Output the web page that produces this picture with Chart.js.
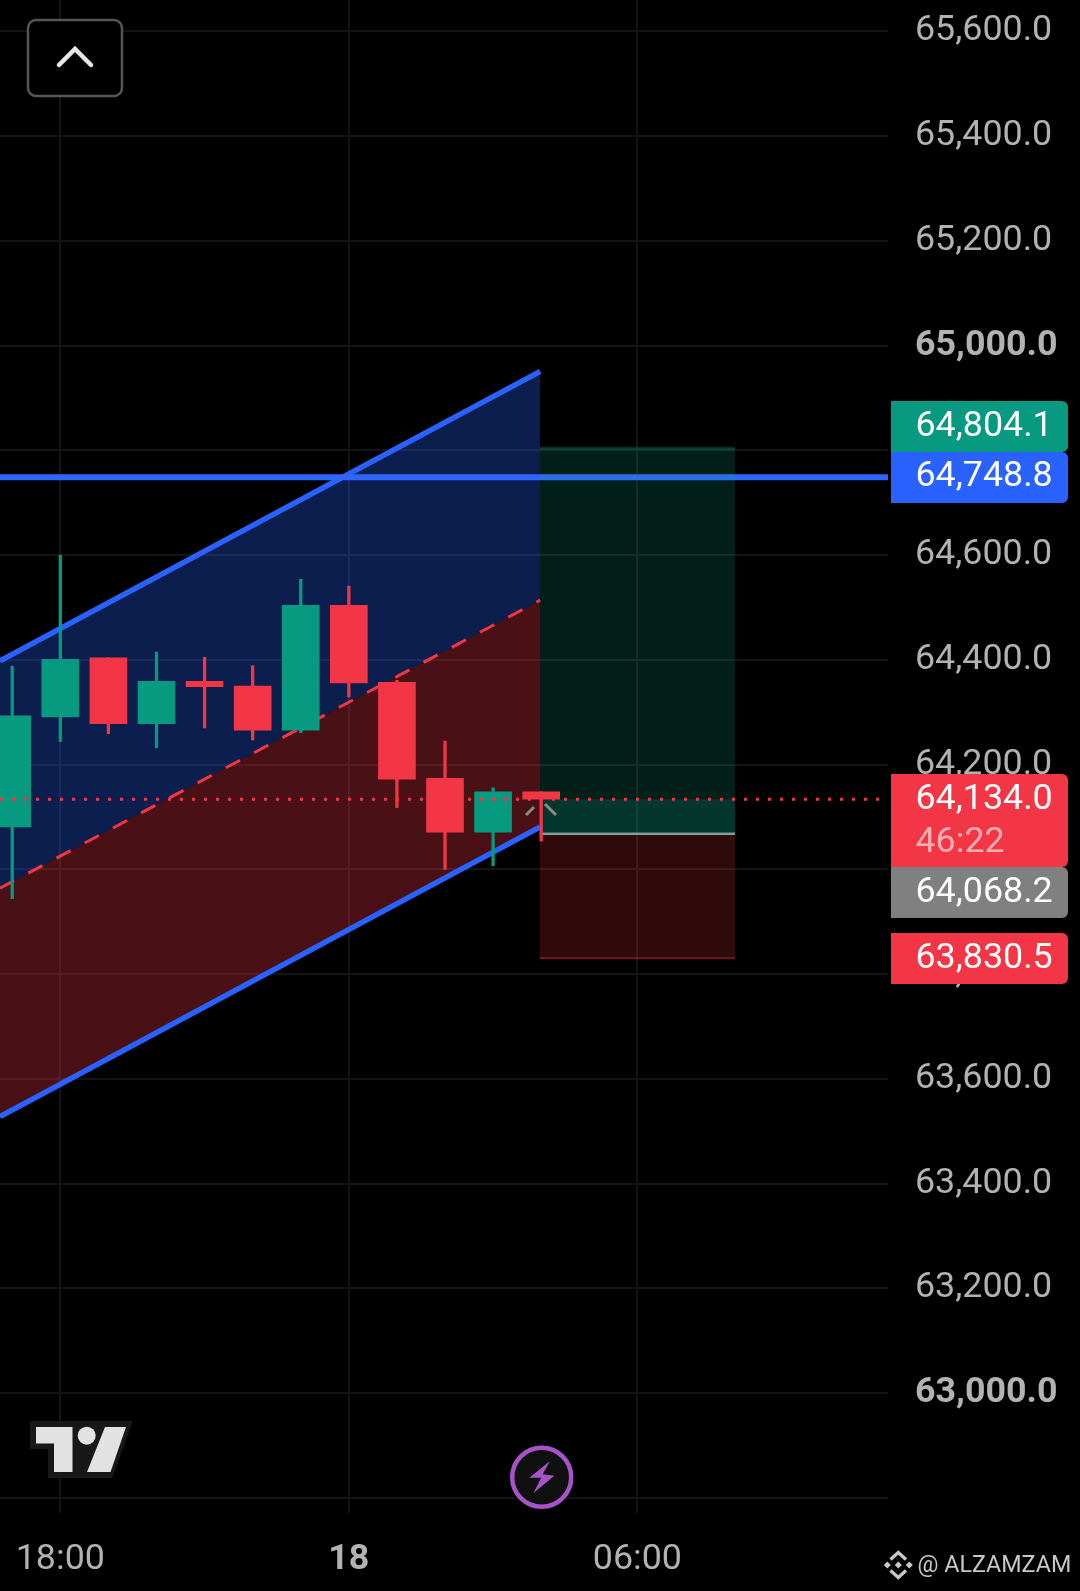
<!DOCTYPE html>
<html><head><meta charset="utf-8">
<style>html,body{margin:0;padding:0;background:#000}canvas{display:block}</style>
<script src="https://cdn.jsdelivr.net/npm/chart.js@4"></script>
</head><body>
<canvas id="c" width="1080" height="1591" style="width:1080px;height:1591px"></canvas>
<script>
// x = hours since 18:00 on the 17th
const hours  = [-1,0,1,2,3,4,5,6,7,8,9,10];
const open   = [64081,64291,64404,64278,64359,64350,64266,64504,64357,64174,64071,64148];
const high   = [64388,64600,64404,64415,64405,64389,64554,64541,64361,64245,64156,64148];
const low    = [63944,64244,64259,64232,64270,64247,64261,64329,64118,64000,64007,64054];
const close  = [64293,64401,64278,64359,64349,64266,64504,64356,64172,64071,64148,64134];
const priceTicks = [65600,65400,65200,65000,64800,64600,64400,64200,64000,63800,63600,63400,63200,63000,62800];
const priceTickLabels = ['65,600.0','65,400.0','65,200.0','65,000.0','64,800.0','64,600.0','64,400.0','64,200.0','64,000.0','63,800.0','63,600.0','63,400.0','63,200.0','63,000.0',''];
const boldPrices = [65000,63000];
const timeTicks = [0,6,12];
const timeTickLabels = ['18:00','18','06:00'];
const boldTimes = [6];
const channelX = [-1.254,9.98];
const channelUpper = [64398,64951];
const channelMid = [63964,64514];
const channelLower = [63528,64081];
const positionX = [9.97,14.03];
const targetPrice = 64804.1;
const entryPrice = 64068.2;
const stopPrice = 63830.5;
const levelPrice = 64748.8;
const lastPrice = 64134.0;
const countdown = '46:22';

const GREEN='#089981', RED='#f23645', BLUE='#2962ff', GRAY='#808080';
const X_MIN=-1.254, X_MAX=17.212, Y_MIN=62771, Y_MAX=65660;
const FONT='Roboto', SIZE=35.8, GRID='#141414';
const flat=(xs,v)=>xs.map(x=>({x,y:v}));
const line=(xs,ys)=>xs.map((x,i)=>({x,y:ys[i]}));
const base={type:'line',pointRadius:0,pointHoverRadius:0,tension:0,borderCapStyle:'butt'};

const tags=[
 {text:priceFmt(targetPrice),color:GREEN,top:401,bottom:452,ty:427},
 {text:priceFmt(levelPrice),color:BLUE,top:452,bottom:503,ty:477},
 {text:priceFmt(lastPrice),sub:countdown,color:RED,top:774,bottom:867,ty:800,sy:843},
 {text:priceFmt(entryPrice),color:GRAY,top:867,bottom:918,ty:893},
 {text:priceFmt(stopPrice),color:RED,top:933,bottom:984,ty:959}
];
function priceFmt(v){return v.toLocaleString('en-US',{minimumFractionDigits:1,maximumFractionDigits:1});}

const overlay={id:'overlay',afterDraw(chart){
  const g=chart.ctx; g.save();
  const poly=(pts)=>{g.beginPath();pts.forEach(([x,y],i)=>i?g.lineTo(x,y):g.moveTo(x,y));g.closePath();};
  // chevron near the last candle
  g.strokeStyle='#8a8a8a';g.lineWidth=3;g.lineCap='butt';
  g.beginPath();g.moveTo(526,815);g.lineTo(534,807);g.moveTo(545,804);g.lineTo(556,815);g.stroke();
  // tags
  g.textBaseline='middle';g.textAlign='left';
  tags.forEach(t=>{
    g.fillStyle=t.color;g.beginPath();
    g.roundRect(891,t.top,177,t.bottom-t.top,[0,6,6,0]);g.fill();
    g.font='400 '+SIZE+'px '+FONT;g.fillStyle='#fff';g.fillText(t.text,915.5,t.ty);
    if(t.sub){g.fillStyle='rgba(255,255,255,.6)';g.fillText(t.sub,915.5,t.sy);}
  });
  // collapse button
  g.fillStyle='#000';g.strokeStyle='#555';g.lineWidth=2.5;
  g.beginPath();g.roundRect(28,20,94,76,8);g.fill();g.stroke();
  g.strokeStyle='#e8e8e8';g.lineWidth=4.5;g.lineCap='round';g.lineJoin='miter';
  g.beginPath();g.moveTo(59,65);g.lineTo(75,49);g.lineTo(91,65);g.stroke();
  // logo
  g.fillStyle='#181818';
  poly([[30,1421],[133,1421],[112,1478],[48,1478],[48,1449],[30,1449]]);g.fill();
  g.fillStyle='#e2e2e2';
  poly([[36,1427],[72.5,1427],[72.5,1472],[54,1472],[54,1443.5],[36,1443.5]]);g.fill();
  poly([[105,1427],[126,1427],[110.5,1472],[87,1472]]);g.fill();
  g.beginPath();g.arc(86.7,1435.7,9,0,Math.PI*2);g.fill();
  // lightning badge
  g.beginPath();g.arc(541.7,1477.3,29.5,0,Math.PI*2);g.fillStyle='#101010';g.fill();
  g.lineWidth=4.5;g.strokeStyle='#a553c6';g.stroke();
  g.fillStyle='#a553c6';
  poly([[550,1461],[529.3,1477.7],[541.3,1477.7],[533.3,1493.3],[554.3,1475.7],[542.7,1474.3]]);g.fill();
  // footer
  g.fillStyle='#c8c8c8';
  [[898.3,1565],[887.3,1565],[909.3,1565]].forEach(([x,y])=>{
    poly([[x,y-3.6],[x+3.6,y],[x,y+3.6],[x-3.6,y]]);g.fill();
  });
  g.strokeStyle='#c8c8c8';g.lineWidth=3.4;g.lineCap='butt';g.lineJoin='miter';
  g.beginPath();
  g.moveTo(890.5,1559.5);g.lineTo(898.3,1552.5);g.lineTo(906,1559.5);
  g.moveTo(890.5,1570.5);g.lineTo(898.3,1577.5);g.lineTo(906,1570.5);
  g.stroke();
  g.font='400 23.3px '+FONT;g.textAlign='left';g.fillStyle='#c8c8c8';g.fillText('@ ALZAMZAM',917.5,1566);
  g.restore();
}};
const noPad=s=>{s.paddingTop=s.paddingBottom=s.paddingLeft=s.paddingRight=0;};

new Chart(document.getElementById('c'),{
  type:'bar',
  data:{datasets:[
    {...base,order:8,data:line(channelX,channelUpper),borderColor:BLUE,borderWidth:5.5,fill:{target:'+1'},backgroundColor:'rgba(41,98,255,.3)'},
    {...base,order:7.5,data:line(channelX,channelMid),borderColor:RED,borderWidth:3,borderDash:[16,16],fill:{target:'+1'},backgroundColor:'rgba(242,54,69,.3)'},
    {...base,order:7,data:line(channelX,channelLower),borderColor:BLUE,borderWidth:5.5,fill:false},
    {...base,order:5,data:flat(positionX,targetPrice),borderColor:'rgba(8,153,129,.3)',borderWidth:3,fill:{target:'+1'},backgroundColor:'rgba(8,153,129,.2)'},
    {...base,order:5,data:flat(positionX,entryPrice),borderColor:'#9e9e9e',borderWidth:2.5,fill:{target:'+1'},backgroundColor:'rgba(242,54,69,.2)'},
    {...base,order:5,data:flat(positionX,stopPrice),borderColor:'rgba(242,54,69,.4)',borderWidth:2,fill:false},
    {...base,order:4,data:flat(positionX,lastPrice),borderColor:'transparent',borderWidth:0,fill:{target:4},backgroundColor:'rgba(8,153,129,.2)'},
    {...base,order:6,data:flat([X_MIN,X_MAX],levelPrice),borderColor:'#2f66ff',borderWidth:6,fill:false},
    {type:'bar',order:2,grouped:false,barThickness:2.6,borderSkipped:false,borderWidth:0,
      data:hours.map((x,i)=>({x,y:[low[i],high[i]]})),
      backgroundColor:hours.map((x,i)=>close[i]>=open[i]?GREEN:RED)},
    {type:'bar',order:1,grouped:false,barThickness:37,borderSkipped:false,borderWidth:0,
      data:hours.map((x,i)=>({x,y:[open[i],close[i]]})),
      backgroundColor:hours.map((x,i)=>close[i]>=open[i]?GREEN:RED)},
    {...base,order:0,data:flat([X_MIN,X_MAX],lastPrice),borderColor:RED,borderWidth:3,borderDash:[3,9],fill:false}
  ]},
  options:{
    responsive:false,animation:false,devicePixelRatio:1,
    layout:{padding:0},
    plugins:{legend:{display:false},tooltip:{enabled:false},title:{display:false}},
    events:[],
    scales:{
      x:{type:'linear',min:X_MIN,max:X_MAX,offset:false,
        grid:{offset:false,color:GRID,lineWidth:2,drawTicks:false},border:{display:false},
        afterBuildTicks:s=>{s.ticks=timeTicks.map(value=>({value}));},
        afterFit:s=>{s.height=78;noPad(s);},
        ticks:{autoSkip:false,maxRotation:0,minRotation:0,includeBounds:false,padding:26,color:'#b2b2b2',
          callback:v=>timeTickLabels[timeTicks.indexOf(v)],
          font:c=>({family:FONT,size:SIZE,weight:boldTimes.includes(c.tick&&c.tick.value)?'700':'400'})}},
      y:{type:'linear',position:'right',min:Y_MIN,max:Y_MAX,
        grid:{color:GRID,lineWidth:2,drawTicks:false},border:{display:false},
        afterBuildTicks:s=>{s.ticks=priceTicks.map(value=>({value}));},
        afterFit:s=>{s.width=192;noPad(s);},
        ticks:{autoSkip:false,includeBounds:false,padding:27,labelOffset:0,color:'#b2b2b2',
          callback:v=>priceTickLabels[priceTicks.indexOf(v)],
          font:c=>({family:FONT,size:SIZE,weight:boldPrices.includes(c.tick&&c.tick.value)?'700':'400'})}}
    }
  },
  plugins:[overlay]
});
</script>
</body></html>
